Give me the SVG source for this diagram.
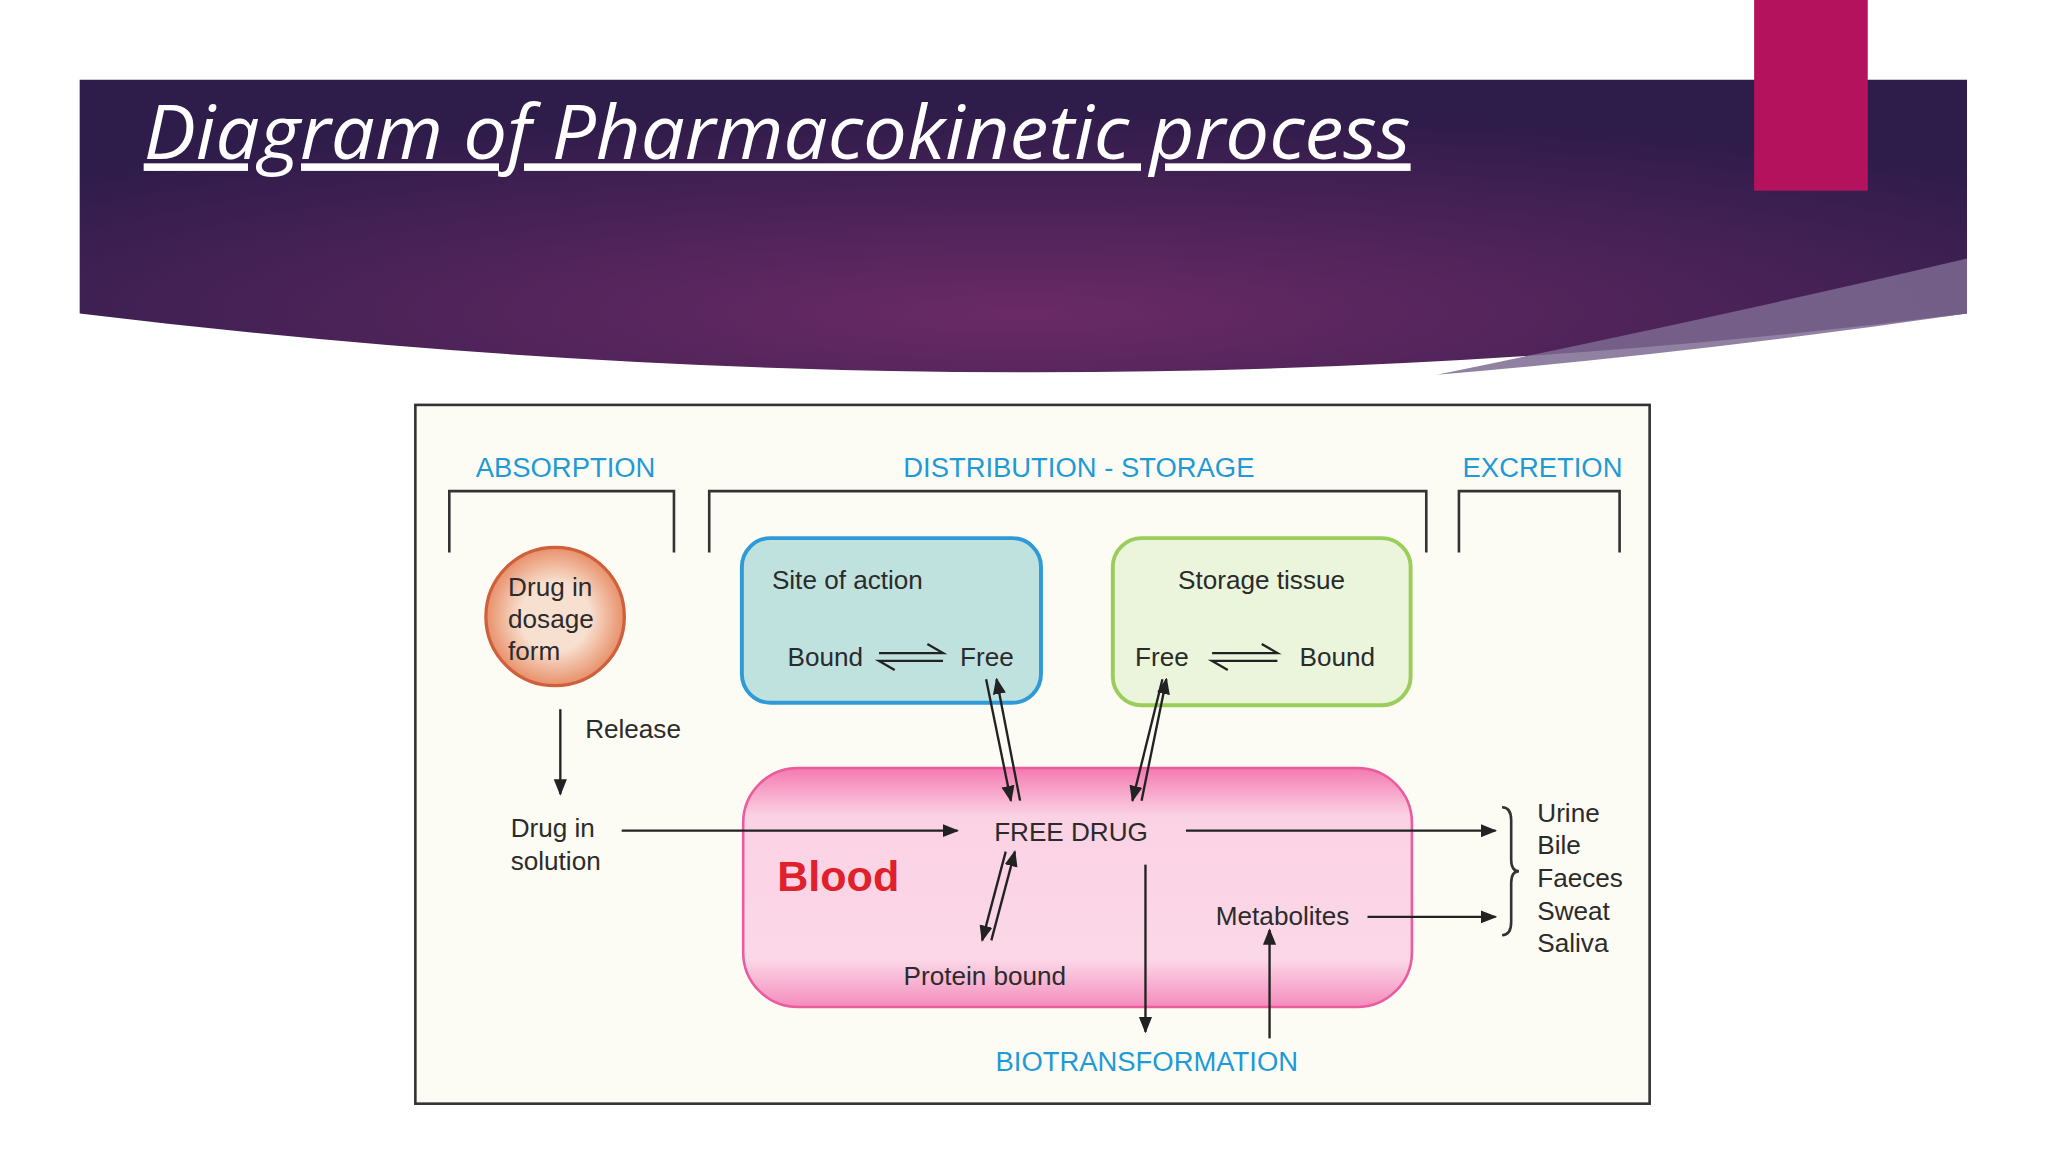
<svg xmlns="http://www.w3.org/2000/svg" width="2048" height="1152" viewBox="0 0 2048 1152">
<defs>
<style>
.t{font-family:"Liberation Sans",Arial,sans-serif;font-size:20px;fill:#2b2b2b}
.b{font-family:"Liberation Sans",Arial,sans-serif;font-size:21px;fill:#1e9ad6}
.ln{stroke:#222;stroke-width:1.8;fill:none}
.br{stroke:#333;stroke-width:2;fill:none}
</style>
<marker id="ah" viewBox="0 0 10 10" refX="9" refY="5" markerWidth="7" markerHeight="7" orient="auto"><path d="M0,1 L10,5 L0,9 z" fill="#222"/></marker>
<radialGradient id="hdr" cx="0.5" cy="0.8" r="0.7"><stop offset="0" stop-color="#6a2a66"/><stop offset="1" stop-color="#2e1c4a"/></radialGradient>
<radialGradient id="circ" cx="0.5" cy="0.5" r="0.5"><stop offset="0.5" stop-color="#f8e0d0"/><stop offset="1" stop-color="#e8906a"/></radialGradient>
<linearGradient id="blood" x1="0" y1="0" x2="0" y2="1"><stop offset="0" stop-color="#f47ab0"/><stop offset="0.2" stop-color="#fbd2e4"/><stop offset="0.8" stop-color="#fbd8e7"/><stop offset="1" stop-color="#f48cbc"/></linearGradient>
</defs>
<g transform="scale(1.30612)">
<rect width="1568" height="882" fill="#ffffff"/>
<g id="header">
<path d="M61,61 H1506 V240 Q800,330 61,240 Z" fill="url(#hdr)"/>
<path d="M1100,287 Q1350,235 1506,198 V240 Q1300,270 1100,287 Z" fill="#7c6a92" opacity="0.85"/>
<rect x="1343" y="0" width="87" height="146" fill="#b5125e"/>
<text x="110" y="122" font-family="'Open Sans','Liberation Sans',sans-serif" font-style="italic" font-size="58" fill="#ffffff" textLength="970" lengthAdjust="spacingAndGlyphs" text-decoration="underline">Diagram of Pharmacokinetic process</text>
</g>
<rect x="318" y="310" width="945" height="535" fill="#fdfcf4" stroke="#333" stroke-width="2"/>
<g id="labels">
<text class="b" x="433" y="365" text-anchor="middle">ABSORPTION</text>
<text class="b" x="826" y="365" text-anchor="middle">DISTRIBUTION - STORAGE</text>
<text class="b" x="1181" y="365" text-anchor="middle">EXCRETION</text>
<text class="b" x="878" y="820" text-anchor="middle">BIOTRANSFORMATION</text>
<path class="br" d="M344,423 V376 H516 V423"/>
<path class="br" d="M543,423 V376 H1092 V423"/>
<path class="br" d="M1117,423 V376 H1240 V423"/>
</g>
<g id="dosage">
<circle cx="425" cy="472" r="53" fill="url(#circ)" stroke="#d0603c" stroke-width="2.5"/>
<text class="t" x="389" y="456">Drug in</text>
<text class="t" x="389" y="481">dosage</text>
<text class="t" x="389" y="505">form</text>
</g>
<g id="solution">
<text class="t" x="391" y="641">Drug in</text>
<text class="t" x="391" y="666">solution</text>
</g>
<g id="blood">
<rect x="569" y="588" width="512" height="183" rx="42" fill="url(#blood)" stroke="#ea5c9e" stroke-width="2"/>
<text class="t" x="820" y="644" text-anchor="middle">FREE  DRUG</text>
<text x="595" y="682" font-family="'Liberation Sans',Arial,sans-serif" font-weight="bold" font-size="33" fill="#e0202a">Blood</text>
<text class="t" x="754" y="754" text-anchor="middle">Protein bound</text>
<text class="t" x="982" y="708" text-anchor="middle">Metabolites</text>
</g>
<g id="site">
<rect x="568" y="412" width="229" height="126" rx="22" fill="#bfe2df" stroke="#2e9bd8" stroke-width="3"/>
<text class="t" x="591" y="451">Site of action</text>
<text class="t" x="603" y="510">Bound</text>
<text class="t" x="735" y="510">Free</text>
<path class="ln" d="M673,500 H722 L710,493 M722,506 H673 L685,513"/>
</g>
<g id="storage">
<rect x="852" y="412" width="228" height="128" rx="22" fill="#eaf5dc" stroke="#9acd5a" stroke-width="3"/>
<text class="t" x="902" y="451">Storage tissue</text>
<text class="t" x="869" y="510">Free</text>
<text class="t" x="995" y="510">Bound</text>
<path class="ln" d="M928,500 H978 L966,493 M978,506 H928 L940,513"/>
</g>
<g id="excretion">
<text class="t" x="1177" y="629">Urine</text>
<text class="t" x="1177" y="654">Bile</text>
<text class="t" x="1177" y="679">Faeces</text>
<text class="t" x="1177" y="704">Sweat</text>
<text class="t" x="1177" y="729">Saliva</text>
<path d="M1150,618 Q1157,618 1157,628 V658 Q1157,667 1163,667 Q1157,667 1157,676 V706 Q1157,716 1150,716" class="br"/>
</g>
<g id="connectors">
<text class="t" x="448" y="565">Release</text>
<line class="ln" x1="429" y1="543" x2="429" y2="608" marker-end="url(#ah)"/>
<line class="ln" x1="476" y1="636" x2="733" y2="636" marker-end="url(#ah)"/>
<line class="ln" x1="908" y1="636" x2="1145" y2="636" marker-end="url(#ah)"/>
<line class="ln" x1="1047" y1="702" x2="1145" y2="702" marker-end="url(#ah)"/>
<line class="ln" x1="877" y1="662" x2="877" y2="790" marker-end="url(#ah)"/>
<line class="ln" x1="972" y1="795" x2="972" y2="712" marker-end="url(#ah)"/>
<line class="ln" x1="755" y1="520" x2="774" y2="613" marker-end="url(#ah)"/>
<line class="ln" x1="781" y1="613" x2="763" y2="520" marker-end="url(#ah)"/>
<line class="ln" x1="890" y1="520" x2="867" y2="613" marker-end="url(#ah)"/>
<line class="ln" x1="874" y1="613" x2="893" y2="520" marker-end="url(#ah)"/>
<line class="ln" x1="770" y1="652" x2="752" y2="720" marker-end="url(#ah)"/>
<line class="ln" x1="759" y1="720" x2="777" y2="652" marker-end="url(#ah)"/>
</g>
</g>
</svg>
